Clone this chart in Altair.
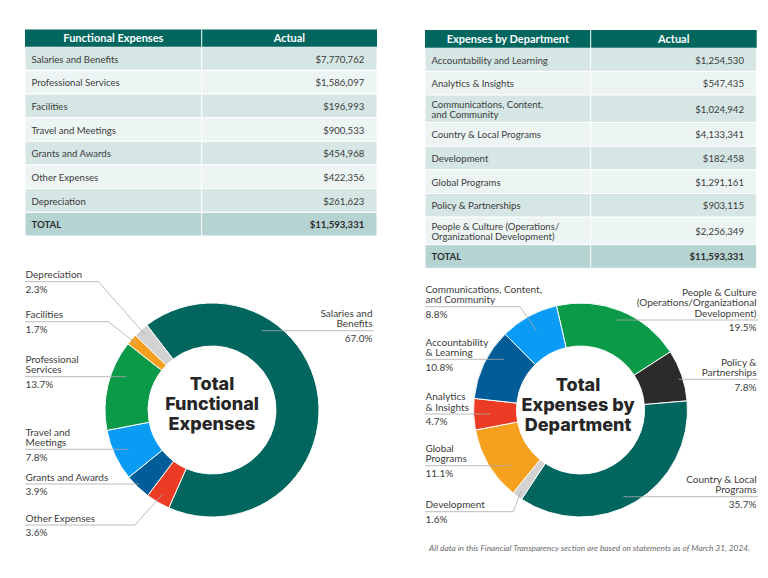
import math
import altair as alt
import pandas as pd

W, H = 768, 578

# ---------------- data ----------------
func_names = ["Salaries and Benefits", "Professional Services", "Facilities",
              "Travel and Meetings", "Grants and Awards", "Other Expenses", "Depreciation"]
func_values = [7770762, 1586097, 196993, 900533, 454968, 422356, 261623]
func_total = 11593331
func_donut_text = ["Salaries and\nBenefits", "Professional\nServices", "Facilities",
                   "Travel and\nMeetings", "Grants and Awards", "Other Expenses", "Depreciation"]
func_ring = [0, 5, 4, 3, 1, 2, 6]  # clockwise slice order (table index)

dept_names = ["Accountability and Learning", "Analytics & Insights",
              "Communications, Content,\nand Community", "Country & Local Programs",
              "Development", "Global Programs", "Policy & Partnerships",
              "People & Culture (Operations/\nOrganizational Development)"]
dept_values = [1254530, 547435, 1024942, 4133341, 182458, 1291161, 903115, 2256349]
dept_total = 11593331
dept_donut_text = ["Accountability\n& Learning", "Analytics\n& Insights",
                   "Communications, Content,\nand Community", "Country & Local\nPrograms",
                   "Development", "Global\nPrograms", "Policy &\nPartnerships",
                   "People & Culture\n(Operations/Organizational\nDevelopment)"]
dept_ring = [7, 6, 3, 4, 5, 1, 0, 2]

footnote = "All data in this Financial Transparency section are based on statements as of March 31, 2024."

# ---------------- styles / layout ----------------
TEAL = "#00665e"
GREEN = "#0b9a48"
ORANGE = "#f5a01e"
BLUE = "#0a9bf5"
NAVY = "#005d97"
RED = "#ec3b24"
GREY = "#d2d2d2"
BLACK = "#2b2b2b"
func_colors = [TEAL, GREEN, ORANGE, BLUE, NAVY, RED, GREY]
dept_colors = [NAVY, RED, BLUE, TEAL, GREY, ORANGE, BLACK, GREEN]
ROW_FILL = ["#d5e6e4", "#edf5f4", "#b4d3d1"]
TXT = "#3c3c3c"
LEADER = "#a9a9a9"
FONT = "Lato"
TITLE_FONT = "Inter"

# label leader layout: side, leader y, elbow x (None = straight), end radius
func_label_layout = [("R", 330.7, None, 93.6), ("L", 376.7, None, 92), ("L", 321.7, 108.3, 101),
                     ("L", 449.3, None, 92.5), ("L", 484.0, None, 104), ("L", 525.0, 135, 97),
                     ("L", 281.7, 98.3, 101)]
dept_label_layout = [("L", 359.3, None, 92), ("L", 414.0, None, 90.6), ("L", 306.7, 520, 91),
                     ("R", 496.7, None, 96.7), ("L", 511.7, 513.3, 100), ("L", 465.7, None, 88.7),
                     ("R", 379.3, None, 103), ("R", 320.0, None, 96.4)]

func_geo = dict(cx=212, cy=410, a0=-37.5, R=107, r=64, tl=25.5, tr=372.5,
                title=["Total", "Functional", "Expenses"], tx=212, ty=409.5)
dept_geo = dict(cx=580.5, cy=410, a0=-13, R=107, r=64, tl=425.5, tr=756.5,
                title=["Total", "Expenses by", "Department"], tx=578, ty=410.7)

func_tab = dict(x0=25, x1=377, xdiv=201.7, head_top=29.5, body_top=46.7, bottom=236,
                head="Functional Expenses")
dept_tab = dict(x0=425, x1=756.7, xdiv=590.7, head_top=30, body_top=47.7, bottom=268.3,
                head="Expenses by Department")

TAB_LH = 10.4     # line height inside table cells
LAB_LH = 10.5     # line height of donut labels
TITLE_LH = 20     # line height of donut centre titles

PX = alt.Scale(domain=[0, W], range=[0, W], nice=False, zero=False)
PY = alt.Scale(domain=[0, H], range=[0, H], nice=False, zero=False)


def table_layers(names, values, total, tb):
    labels = list(names) + ["TOTAL"]
    vals = [f"${v:,}" for v in values] + [f"${total:,}"]
    n = len(labels)
    u0, u1, cur = [], [], 0.0
    for lab in labels:
        w = 1 + 0.16 * lab.count("\n")
        u0.append(cur)
        cur += w
        u1.append(cur)
    um = [(a + b) / 2 for a, b in zip(u0, u1)]
    df = pd.DataFrame({
        "label": labels, "val": vals, "u0": u0, "u1": u1, "um": um,
        "shade": ["t" if i == n - 1 else ("a" if i % 2 == 0 else "b") for i in range(n)],
        "is_total": [i == n - 1 for i in range(n)],
    })
    # one record per text line of the label column
    ppu = (tb["bottom"] - tb["body_top"]) / cur
    line_rows = []
    for i, lab in enumerate(labels):
        parts = lab.split("\n")
        for j, p in enumerate(parts):
            line_rows.append({"line": p, "uy": um[i] + (j - (len(parts) - 1) / 2) * TAB_LH / ppu,
                              "is_total": i == n - 1})
    ldf = pd.DataFrame(line_rows)

    ys = alt.Scale(domain=[0, cur], range=[tb["body_top"], tb["bottom"]], nice=False, zero=False)
    base = alt.Chart(df)
    rows = base.mark_rect(stroke="white", strokeWidth=1).encode(
        x=alt.value(tb["x0"]), x2=alt.value(tb["x1"]),
        y=alt.Y("u0:Q", scale=ys, axis=None), y2="u1:Q",
        color=alt.Color("shade:N", scale=alt.Scale(domain=["a", "b", "t"], range=ROW_FILL), legend=None),
    )
    txt_kw = dict(font=FONT, fontSize=9.6, color=TXT, baseline="middle", dy=1)
    bold_kw = dict(txt_kw, fontWeight="bold", color="#2e2e2e")
    lbase = alt.Chart(ldf)
    lab = lbase.transform_filter("!datum.is_total").mark_text(align="left", **txt_kw).encode(
        x=alt.value(tb["x0"] + 6.5), y=alt.Y("uy:Q", scale=ys, axis=None), text="line:N")
    tlab = lbase.transform_filter("datum.is_total").mark_text(align="left", **bold_kw).encode(
        x=alt.value(tb["x0"] + 6.5), y=alt.Y("uy:Q", scale=ys, axis=None), text="line:N")
    val = base.transform_filter("!datum.is_total").mark_text(align="right", **txt_kw).encode(
        x=alt.value(tb["x1"] - 12.7), y=alt.Y("um:Q", scale=ys, axis=None), text="val:N")
    tval = base.transform_filter("datum.is_total").mark_text(align="right", **bold_kw).encode(
        x=alt.value(tb["x1"] - 12.7), y=alt.Y("um:Q", scale=ys, axis=None), text="val:N")

    hdf = pd.DataFrame({"h1": [tb["head"]], "h2": ["Actual"]})
    hbase = alt.Chart(hdf)
    head = hbase.mark_rect(color=TEAL).encode(
        x=alt.value(tb["x0"]), x2=alt.value(tb["x1"]),
        y=alt.value(tb["head_top"]), y2=alt.value(tb["body_top"]))
    hmid = (tb["head_top"] + tb["body_top"]) / 2 + 1
    hkw = dict(font=FONT, fontSize=11, fontWeight="bold", color="white", baseline="middle", align="center")
    h1 = hbase.mark_text(**hkw).encode(
        x=alt.value((tb["x0"] + tb["xdiv"]) / 2), y=alt.value(hmid), text="h1:N")
    h2 = hbase.mark_text(**hkw).encode(
        x=alt.value((tb["xdiv"] + tb["x1"]) / 2), y=alt.value(hmid), text="h2:N")
    div = hbase.mark_rule(color="white", strokeWidth=1).encode(
        x=alt.value(tb["xdiv"]), y=alt.value(tb["head_top"]), y2=alt.value(tb["bottom"]))
    return [rows, head, div, lab, val, tlab, tval, h1, h2]


def donut_layers(names, values, ring, texts, layout, colors, g):
    total = float(sum(values))
    arc_df = pd.DataFrame({
        "name": [names[i] for i in ring],
        "value": [values[i] for i in ring],
        "k": list(range(len(ring))),
    })
    a0 = math.radians(g["a0"])
    arcs = alt.Chart(arc_df).mark_arc(outerRadius=g["R"], innerRadius=g["r"],
                                      stroke="white", strokeWidth=1).encode(
        x=alt.value(g["cx"]), y=alt.value(g["cy"]),
        theta=alt.Theta("value:Q", stack=True,
                        scale=alt.Scale(domain=[0, total], range=[a0, a0 + 2 * math.pi], nice=False)),
        order=alt.Order("k:Q", sort="ascending"),
        color=alt.Color("name:N", scale=alt.Scale(domain=[names[i] for i in ring],
                                                  range=[colors[i] for i in ring]), legend=None),
    )

    pts, lab_rows = [], []
    cum = 0.0
    for i in ring:
        v = values[i]
        mid = math.radians(g["a0"] + (cum + v / 2) / total * 360)
        cum += v
        side, ly, ex, rr = layout[i]
        outer_x = g["tl"] - 0.5 if side == "L" else g["tr"] + 1.5
        if ex is None:
            dy = ly - g["cy"]
            dx = math.sqrt(rr ** 2 - dy ** 2)
            path = [(outer_x, ly), (g["cx"] + (dx if side == "R" else -dx), ly)]
        else:
            path = [(outer_x, ly), (ex, ly),
                    (g["cx"] + rr * math.sin(mid), g["cy"] - rr * math.cos(mid))]
        for k, (px, py) in enumerate(path):
            pts.append({"name": names[i], "k": k, "px": px, "py": py})
        tx = g["tl"] if side == "L" else g["tr"]
        parts = texts[i].split("\n")
        for j, p in enumerate(parts):
            lab_rows.append({"side": side, "text": p, "tx": tx,
                             "ty": ly - 3.3 - (len(parts) - 1 - j) * LAB_LH})
        lab_rows.append({"side": side, "text": f"{v / total * 100:.1f}%", "tx": tx, "ty": ly + 11.3})
    line_df = pd.DataFrame(pts)
    lab_df = pd.DataFrame(lab_rows)

    leaders = alt.Chart(line_df).mark_line(color=LEADER, strokeWidth=0.8).encode(
        x=alt.X("px:Q", scale=PX, axis=None), y=alt.Y("py:Q", scale=PY, axis=None),
        detail="name:N", order="k:Q")

    layers = [arcs, leaders]
    kw = dict(font=FONT, fontSize=10, color=TXT, baseline="alphabetic")
    for side, align in (("L", "left"), ("R", "right")):
        sub = alt.Chart(lab_df).transform_filter(f"datum.side == '{side}'")
        layers.append(sub.mark_text(align=align, **kw).encode(
            x=alt.X("tx:Q", scale=PX, axis=None), y=alt.Y("ty:Q", scale=PY, axis=None), text="text:N"))

    tdf = pd.DataFrame({"t": g["title"],
                        "ty": [g["ty"] + (j - 1) * TITLE_LH for j in range(len(g["title"]))]})
    title = alt.Chart(tdf).mark_text(
        font=TITLE_FONT, fontSize=18, fontWeight=800, color="#262626", align="center",
        baseline="alphabetic").encode(
        x=alt.value(g["tx"]), y=alt.Y("ty:Q", scale=PY, axis=None), text="t:N")
    layers.append(title)
    return layers


layers = []
layers += table_layers(func_names, func_values, func_total, func_tab)
layers += table_layers(dept_names, dept_values, dept_total, dept_tab)
layers += donut_layers(func_names, func_values, func_ring, func_donut_text,
                       func_label_layout, func_colors, func_geo)
layers += donut_layers(dept_names, dept_values, dept_ring, dept_donut_text,
                       dept_label_layout, dept_colors, dept_geo)

note = alt.Chart(pd.DataFrame({"t": [footnote]})).mark_text(
    font=FONT, fontSize=8.3, fontStyle="italic", color="#6a6a6a", align="right", baseline="alphabetic").encode(
    x=alt.value(750), y=alt.value(551), text="t:N")
layers.append(note)

chart = alt.layer(*layers).resolve_scale(
    x="independent", y="independent", color="independent", theta="independent"
).properties(
    width=W, height=H, autosize=alt.AutoSizeParams(type="none"), padding=0, background="white"
).configure_view(stroke=None)

chart.save("out.html", embed_options={"renderer": "svg", "actions": False})
